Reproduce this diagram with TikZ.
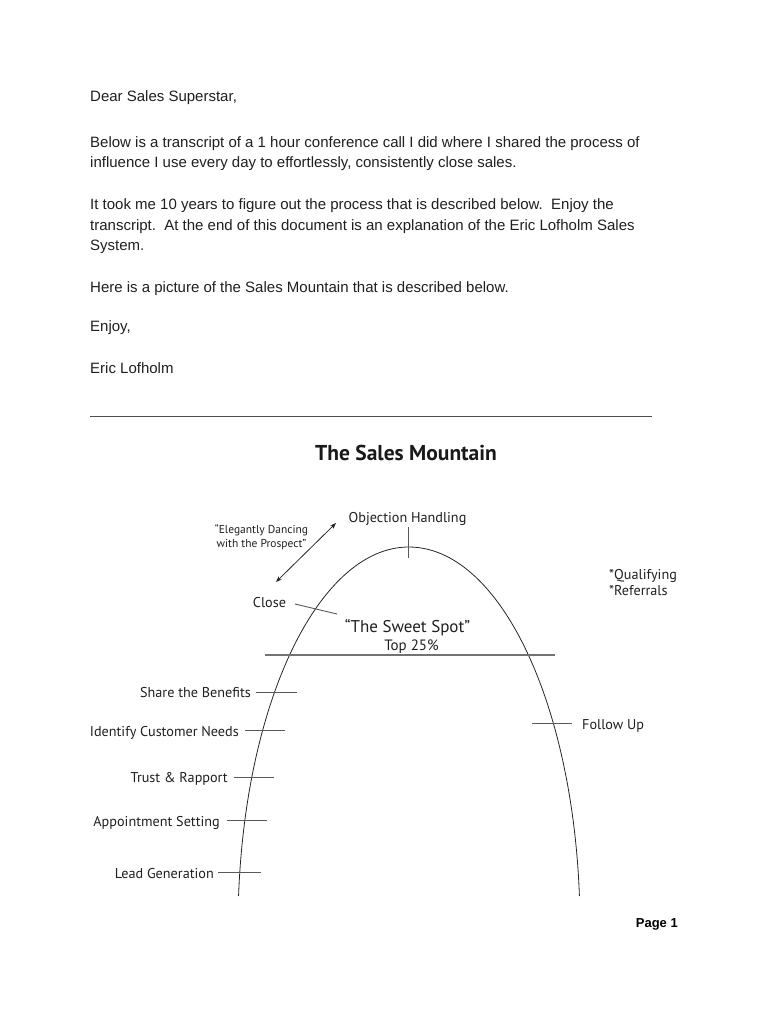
\documentclass[tikz,border=0pt]{standalone}
\usepackage{fontspec}
\setmainfont{Liberation Sans}
\newfontfamily\dfont{PT Sans}
\usetikzlibrary{arrows.meta}
\begin{document}
\begin{tikzpicture}[x=1pt,y=-1pt,
  body/.style={anchor=base west, inner sep=0pt, font=\fontsize{15}{20}\selectfont, text=black!88},
  lbl/.style={inner sep=0pt, font=\dfont\fontsize{14.2}{16}\selectfont, text=black!88},
  tick/.style={draw=black!65, line width=0.9pt},
  curve/.style={draw=black!85, line width=0.8pt},
]
\useasboundingbox (0,0) rectangle (768,1024);
% letter text
\node[body] (l1) at (90,102) {Dear Sales Superstar,};
\node[body] (l2) at (90,148) {Below is a transcript of a 1 hour conference call I did where I shared the process of};
\node[body] (l3) at (90,168) {influence I use every day to effortlessly, consistently close sales.};
\node[body] (l4) at (90,210) {It took me 10 years to figure out the process that is described below.\ \ Enjoy the};
\node[body] (l5) at (90,230) {transcript.\ \ At the end of this document is an explanation of the Eric Lofholm Sales};
\node[body] (l6) at (90,251) {System.};
\node[body] (l7) at (90,292) {Here is a picture of the Sales Mountain that is described below.};
\node[body] (l8) at (90,331) {Enjoy,};
\node[body] (l9) at (90,373) {Eric Lofholm};
\draw[draw=black!70, line width=0.8pt] (90,416) -- (652,416);
% diagram
\node[inner sep=0pt, anchor=base, font=\dfont\bfseries\fontsize{21.5}{24}\selectfont, text=black!90] (title) at (406,460) {The Sales Mountain};
\coordinate (mbase) at (238.57,896);
\draw[curve] (mbase) arc[start angle=184.68, end angle=355.32, x radius=171, y radius=380];
\draw[draw=black!55, line width=1.2pt] (265,655) -- (555,655);
% labels
\node[lbl, anchor=base] (obj) at (407.5,522) {Objection Handling};
\draw[tick] (408,527) -- (408,558);
\node[lbl, align=center, font=\dfont\fontsize{11.5}{13.5}\selectfont] (eleg) at (261.5,537) {“Elegantly Dancing\\with the Prospect”};
\coordinate (a1) at (276,582);
\coordinate (a2) at (336,523);
\draw[draw=black!85, line width=0.8pt, {Stealth[length=6pt,width=4.5pt]}-{Stealth[length=6pt,width=4.5pt]}] (a1) -- (a2);
\node[lbl, anchor=base] (close) at (269.5,607) {Close};
\coordinate (c1) at (295,604);
\coordinate (c2) at (337,614);
\draw[tick] (c1) -- (c2);
\node[lbl, anchor=base, font=\dfont\fontsize{17}{20}\selectfont] (sweet) at (407.5,632.5) {“The Sweet Spot”};
\node[lbl, anchor=base, font=\dfont\fontsize{15}{18}\selectfont] (top) at (411.5,650.5) {Top 25\%};
\node[lbl, anchor=base west] (q) at (609,579) {*Qualifying};
\node[lbl, anchor=base west] (r) at (609,595) {*Referrals};
\node[lbl, anchor=base east] (share) at (251,697) {Share the Benefits};
\draw[tick] (256,692) -- (297,692);
\node[lbl, anchor=base east] (ident) at (239,736) {Identify Customer Needs};
\draw[tick] (245,730) -- (285,730);
\node[lbl, anchor=base east] (trust) at (228,782) {Trust \& Rapport};
\draw[tick] (234,777) -- (274,777);
\node[lbl, anchor=base east] (appt) at (220,826) {Appointment Setting};
\draw[tick] (227,820) -- (267,820);
\node[lbl, anchor=base east] (lead) at (214,878) {Lead Generation};
\draw[tick] (218,872) -- (261,872);
\node[lbl, anchor=base west] (follow) at (582,729) {Follow Up};
\draw[tick] (532,723) -- (572,723);
% footer
\node[inner sep=0pt, anchor=base east, font=\bfseries\fontsize{13}{15}\selectfont] (page) at (678,927) {Page 1};
\end{tikzpicture}
\end{document}
